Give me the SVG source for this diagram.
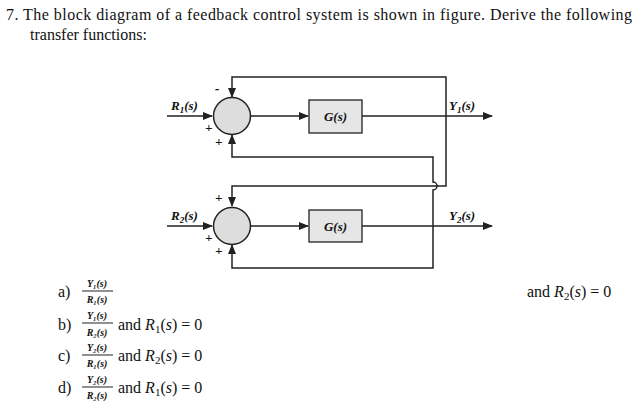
<svg xmlns="http://www.w3.org/2000/svg" width="638" height="409" viewBox="0 0 638 409">
<defs><marker id="a" markerWidth="10" markerHeight="8" refX="9" refY="4" orient="auto" markerUnits="userSpaceOnUse"><path d="M0,0L10,4L0,8z" fill="#222"/></marker></defs>
<style>
text{font-family:"Liberation Serif",serif;fill:#111}
.t{font-size:16px}
.l{font-size:13px;font-style:italic;font-weight:bold}
.m{font-family:"DejaVu Serif",serif;font-style:italic;font-weight:bold;font-size:10px}
.c{font-size:16px}
.ln{fill:none;stroke:#222;stroke-width:1.5}
.sum{fill:#ddd;stroke:#222;stroke-width:1.5}
.box{fill:#e6e6e6;stroke:#222;stroke-width:1.3}
</style>
<rect width="638" height="409" fill="#fff"/>
<text class="t" x="6" y="20" textLength="626" lengthAdjust="spacing">7.   The block diagram of a feedback control system is shown in figure. Derive the following</text>
<text class="t" x="30" y="40">transfer functions:</text>
<g id="conn" class="ln">
<path d="M167,116H212" marker-end="url(#a)"/>
<path d="M250,116H308" marker-end="url(#a)"/>
<path d="M362,116H492" marker-end="url(#a)"/>
<path d="M446,116V77H232V97" marker-end="url(#a)"/>
<path d="M446,116V186H232V206" marker-end="url(#a)"/>
<path d="M167,226H212" marker-end="url(#a)"/>
<path d="M250,226H308" marker-end="url(#a)"/>
<path d="M362,226H492" marker-end="url(#a)"/>
<path d="M433,226V268H232V245" marker-end="url(#a)"/>
<path d="M433,226V190A4,4 0 0 0 433,182V157H232V135" marker-end="url(#a)"/>
</g>
<g id="s1"><circle class="sum" cx="232" cy="116" r="18.5"/></g>
<g id="s2"><circle class="sum" cx="232" cy="226" r="18.5"/></g>
<g id="g1"><rect class="box" x="309" y="100" width="53" height="33"/><text class="l" x="335.5" y="121" text-anchor="middle">G(s)</text></g>
<g id="g2"><rect class="box" x="309" y="210" width="53" height="32"/><text class="l" x="335.5" y="231" text-anchor="middle">G(s)</text></g>
<g class="l">
<text x="171" y="110">R<tspan font-size="9" dy="3">1</tspan><tspan dy="-3">(s)</tspan></text>
<text x="449" y="110">Y<tspan font-size="9" dy="3">1</tspan><tspan dy="-3">(s)</tspan></text>
<text x="171" y="220">R<tspan font-size="9" dy="3">2</tspan><tspan dy="-3">(s)</tspan></text>
<text x="449" y="220">Y<tspan font-size="9" dy="3">2</tspan><tspan dy="-3">(s)</tspan></text>
<text x="215" y="93">-</text><text x="205" y="132">+</text><text x="215" y="146">+</text>
<text x="215" y="202">+</text><text x="205" y="242">+</text><text x="215" y="255">+</text>
</g>
<g class="c">
<text x="58" y="297">a)</text><text x="58" y="330">b)</text><text x="58" y="361">c)</text><text x="58" y="393">d)</text>
<text x="118" y="330">and <tspan font-style="italic">R</tspan><tspan font-size="11" dy="3">1</tspan><tspan dy="-3">(<tspan font-style="italic">s</tspan>) = 0</tspan></text>
<text x="118" y="361">and <tspan font-style="italic">R</tspan><tspan font-size="11" dy="3">2</tspan><tspan dy="-3">(<tspan font-style="italic">s</tspan>) = 0</tspan></text>
<text x="118" y="393">and <tspan font-style="italic">R</tspan><tspan font-size="11" dy="3">1</tspan><tspan dy="-3">(<tspan font-style="italic">s</tspan>) = 0</tspan></text>
<text x="527" y="297">and <tspan font-style="italic">R</tspan><tspan font-size="11" dy="3">2</tspan><tspan dy="-3">(<tspan font-style="italic">s</tspan>) = 0</tspan></text>
</g>
<g class="m" text-anchor="middle">
<text x="97" y="287">Y₁(s)</text><text x="97" y="303">R₁(s)</text>
<text x="97" y="319">Y₁(s)</text><text x="97" y="336">R₂(s)</text>
<text x="97" y="351">Y₂(s)</text><text x="97" y="367">R₁(s)</text>
<text x="97" y="383">Y₂(s)</text><text x="97" y="399">R₂(s)</text>
</g>
<g stroke="#222" stroke-width="1">
<path d="M82,291H113M82,323H113M82,355H113M82,387H113"/>
</g>
</svg>
